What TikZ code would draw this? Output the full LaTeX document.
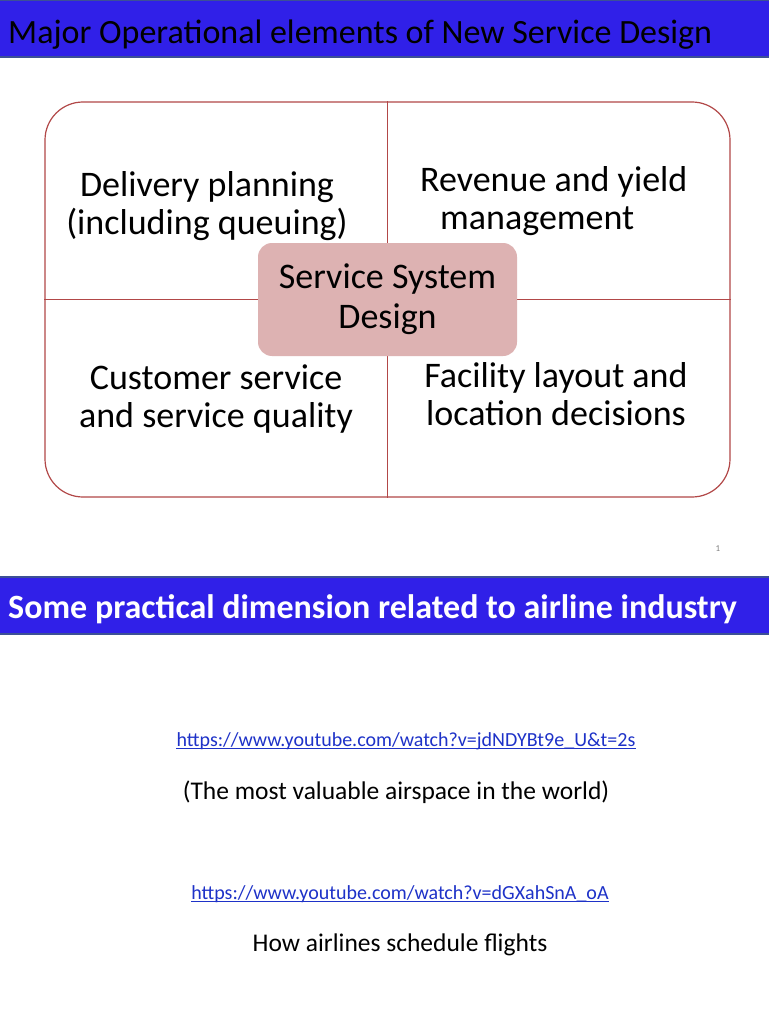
\documentclass[tikz,border=0pt]{standalone}
\usepackage{fontspec}
\setmainfont{Carlito}
\usepackage{tikz}
\usetikzlibrary{positioning}
\usepackage{xcolor}
\definecolor{barblue}{RGB}{48,32,232}
\definecolor{barline}{RGB}{60,80,150}
\definecolor{gridred}{RGB}{178,72,72}
\definecolor{hubpink}{RGB}{221,178,178}
\definecolor{linkblue}{RGB}{30,50,200}

\begin{document}
\begin{tikzpicture}[x=1pt, y=-1pt, every node/.style={font=\fontsize{36}{38}\selectfont, inner sep=0pt},
  titlebar/.style={draw=barline, line width=1.2pt, fill=barblue},
  cell/.style={align=center},
  linktext/.style={font=\fontsize{20}{24}\selectfont, text=linkblue, anchor=base},
  plain/.style={font=\fontsize{25.5}{30}\selectfont, anchor=base}]
  \useasboundingbox (0,0) rectangle (768,1024);
  \fill[white] (0,0) rectangle (768,1024);
  % first slide
  \draw[titlebar] (-2,0) rectangle (770,57);
  \node[anchor=base west, font=\fontsize{34}{40}\selectfont] (title1) at (8,44) {Major Operational elements of New Service Design};
  \node[draw=gridred, line width=1.2pt, rounded corners=38pt, minimum width=685pt, minimum height=395pt] (grid) at (387.5,299.5) {};
  \draw[gridred, line width=1.2pt] (grid.north) -- (grid.south);
  \draw[gridred, line width=1.2pt] (grid.west) -- (grid.east);
  \node[cell] (delivery) at (207,206) {Delivery planning\\(including queuing)};
  \node[anchor=west, align=left] (revenue) at (420,201) {Revenue and yield\\\hspace*{20pt}management};
  \node[cell] (customer) at (216,399) {Customer service\\and service quality};
  \node[cell] (facility) at (556,394) {Facility layout and\\location decisions};
  \node[fill=hubpink, rounded corners=14pt, minimum width=259pt, minimum height=113pt, align=center, font=\fontsize{36}{40}\selectfont] (hub) at (387.5,299.5) {Service System\\Design};
  \node[font=\fontsize{9}{10}\selectfont, text=gray] (pagenum) at (718,549) {1};
  % second slide
  \draw[titlebar] (-2,577) rectangle (770,634);
  \node[anchor=base west, text=white, font=\fontsize{34}{40}\selectfont\bfseries] (title2) at (8,618) {Some practical dimension related to airline industry};
  \node[linktext] (link1) at (406,746) {https://www.youtube.com/watch?v=jdNDYBt9e\_U\&t=2s};
  \draw[linkblue, line width=0.8pt] ([yshift=-2.5pt]link1.base west) -- ([yshift=-2.5pt]link1.base east);
  \node[plain] (airspace) at (396,799) {(The most valuable airspace in the world)};
  \node[linktext] (link2) at (400,899) {https://www.youtube.com/watch?v=dGXahSnA\_oA};
  \draw[linkblue, line width=0.8pt] ([yshift=-2.5pt]link2.base west) -- ([yshift=-2.5pt]link2.base east);
  \node[plain] (schedule) at (400,951) {How airlines schedule flights};
\end{tikzpicture}
\end{document}
